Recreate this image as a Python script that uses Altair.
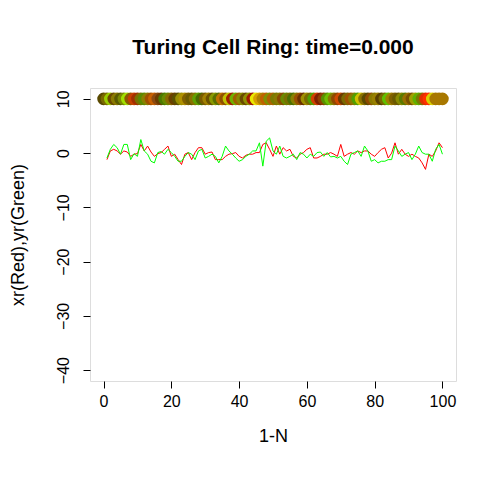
import altair as alt
import pandas as pd

idx = list(range(1, 101))
xr = [-1.2, 0.4, 0.7, 0.4, -0.2, 0.4, 0.2, -0.6, -0.2, -0.1,
      1.6, 0.4, 1.3, 0.2, -0.6, -0.1, 0.1, 0.7, 1.3, -0.6,
      -0.2, -1.2, -2.1, -0.2, 0.1, -1.2, 0.1, 1.0, 1.0, -0.2,
      0.1, 0.2, -1.2, -1.2, -1.2, -0.6, -0.2, -0.1, 0.1, -0.6,
      -0.9, -0.4, -0.2, -0.2, 0.1, 0.1, 1.6, 1.9, 0.7, -0.6,
      1.3, -0.2, 1.0, 0.4, 0.7, -0.6, -0.9, -0.2, 0.1, 0.7,
      1.0, -0.9, -0.9, -0.6, -0.2, -0.2, 0.1, -0.2, -0.6, 1.6,
      -0.6, -0.2, 0.1, -0.2, 0.4, 0.1, 0.4, 0.4, -0.2, -0.6,
      0.1, 0.7, 1.0, -0.9, 0.0, 1.9, -0.2, 0.7, -0.2, -0.6,
      -0.2, -0.6, -0.9, -1.8, -3.0, -0.2, -0.6, 0.4, 1.9, 1.0]
yr = [-0.9, 0.7, 1.6, 1.0, -0.2, 1.6, 1.6, -1.2, -0.1, -0.6,
      2.5, 0.4, -0.2, -1.5, -1.8, 0.1, 0.3, -0.2, 0.7, 0.1,
      -0.6, -1.5, -1.5, -0.6, 0.1, -0.2, -1.2, 0.4, 0.7, -0.9,
      -0.6, -0.2, -0.6, -1.8, -0.6, 1.3, 0.4, -0.2, -0.9, -1.5,
      -1.2, -0.6, -0.2, 0.4, 0.4, 1.9, -2.4, 2.2, 2.8, 0.4,
      -0.2, 1.3, -0.6, -0.9, -0.6, -0.2, -1.2, 0.1, -0.2, -0.9,
      -0.2, -0.6, 0.1, 0.2, -0.6, 0.1, -0.7, -0.6, -0.9, -0.6,
      -1.5, -2.1, -0.2, 0.1, 0.4, -0.6, 1.3, 0.4, -1.5, -1.2,
      -1.8, -1.5, -1.5, -1.2, -1.2, 1.3, 0.4, -0.6, -0.2, 0.1,
      -1.2, -0.2, 1.3, 0.1, -0.2, -0.2, -1.5, 0.7, 1.6, -0.2]

dot_x = list(range(0, 101))
dot_y = [10] * 101
dot_color = [
    "#5a4a00", "#7a6a00", "#9acd00", "#6b4a00", "#8a7a00", "#5a5a00", "#7a8a00", "#a0e000", "#8b5a00", "#c84000",
    "#a03000", "#7a7000", "#5a8a00", "#8a8000", "#a05000", "#c86000", "#8b4a10", "#6b3a00", "#4a7a00", "#6a8a00",
    "#8a6a00", "#6b4000", "#5a5000", "#9a9000", "#b09000", "#806000", "#6a5a00", "#8a7000", "#60a000", "#4a6a00",
    "#7a5a00", "#a08000", "#6b5000", "#8a9a00", "#5a7000", "#c07000", "#905000", "#c0c000", "#a02000", "#70b000",
    "#a06000", "#8a8a00", "#6a4a00", "#909000", "#a01800", "#e8e800", "#d8a000", "#b08000", "#c06000", "#809000",
    "#b06000", "#7a7a00", "#8a7a00", "#8b4a00", "#6a8a00", "#7a7000", "#4a7000", "#8a8000", "#9a5000", "#6b3000",
    "#a09000", "#7a6a00", "#50a000", "#d04000", "#802000", "#904000", "#5a9000", "#70c000", "#8a7a00", "#904800",
    "#d04a00", "#6b3a00", "#7a6a00", "#a05000", "#8a7a00", "#50a000", "#d0c000", "#8a7000", "#5a4a00", "#904a00",
    "#8a7a00", "#9a8000", "#5a4000", "#7a6a00", "#60c000", "#a08000", "#806000", "#6a5a00", "#8a8a00", "#5a7a00",
    "#9a7000", "#7a5000", "#a0a000", "#60b000", "#7a7a00", "#e03000", "#ff3000", "#d8d000", "#a87800", "#a87800",
    "#a87800"]

lines = pd.DataFrame({
    "i": idx + idx,
    "v": xr + yr,
    "s": ["red"] * 100 + ["green"] * 100,
})
dots = pd.DataFrame({"i": dot_x, "v": dot_y, "c": dot_color})

FONT = "Liberation Sans"
xscale = alt.Scale(domain=[-4, 104], nice=False, zero=False)
yscale = alt.Scale(domain=[-42, 12], nice=False, zero=False)
xaxis = alt.Axis(values=[0, 20, 40, 60, 80, 100], title="1-N", grid=False, domain=False,
                 tickSize=7, tickColor="black", labelColor="black", labelFontSize=16,
                 labelFont=FONT, titleFont=FONT, titleFontSize=18, titleFontWeight="normal",
                 titleColor="black", labelPadding=5, titlePadding=18, format="d")
yaxis = alt.Axis(values=[-40, -30, -20, -10, 0, 10], title="xr(Red),yr(Green)", grid=False,
                 domain=False, tickSize=7, tickColor="black", labelColor="black",
                 labelFontSize=16, labelFont=FONT, labelAngle=-90, labelAlign="center",
                 labelBaseline="bottom", labelPadding=12, titleFont=FONT, titleFontSize=18,
                 titleFontWeight="normal", titleColor="black", titlePadding=28, format="d")

line_layer = alt.Chart(lines).mark_line(strokeWidth=1, clip=True).encode(
    x=alt.X("i:Q", scale=xscale, axis=xaxis),
    y=alt.Y("v:Q", scale=yscale, axis=yaxis),
    color=alt.Color("s:N", scale=alt.Scale(domain=["red", "green"], range=["#FF0000", "#00FF00"]), legend=None),
    order=alt.Order("i:Q"),
)
dot_layer = alt.Chart(dots).mark_circle(size=160, opacity=1).encode(
    x=alt.X("i:Q", scale=xscale),
    y=alt.Y("v:Q", scale=yscale),
    color=alt.Color("c:N", scale=None),
)

chart = alt.layer(dot_layer, line_layer).properties(
    width=366, height=293,
    autosize=alt.AutoSizeParams(type="none"),
    padding={"left": 82, "top": 80, "right": 36, "bottom": 91},
    title=alt.TitleParams("Turing Cell Ring: time=0.000", font=FONT, fontSize=21,
                          fontWeight="bold", color="black", anchor="middle", offset=30),
).configure_view(stroke="#555555", strokeWidth=1).configure(background="white")

chart.save("out.html", embed_options={"renderer": "svg", "actions": False})
